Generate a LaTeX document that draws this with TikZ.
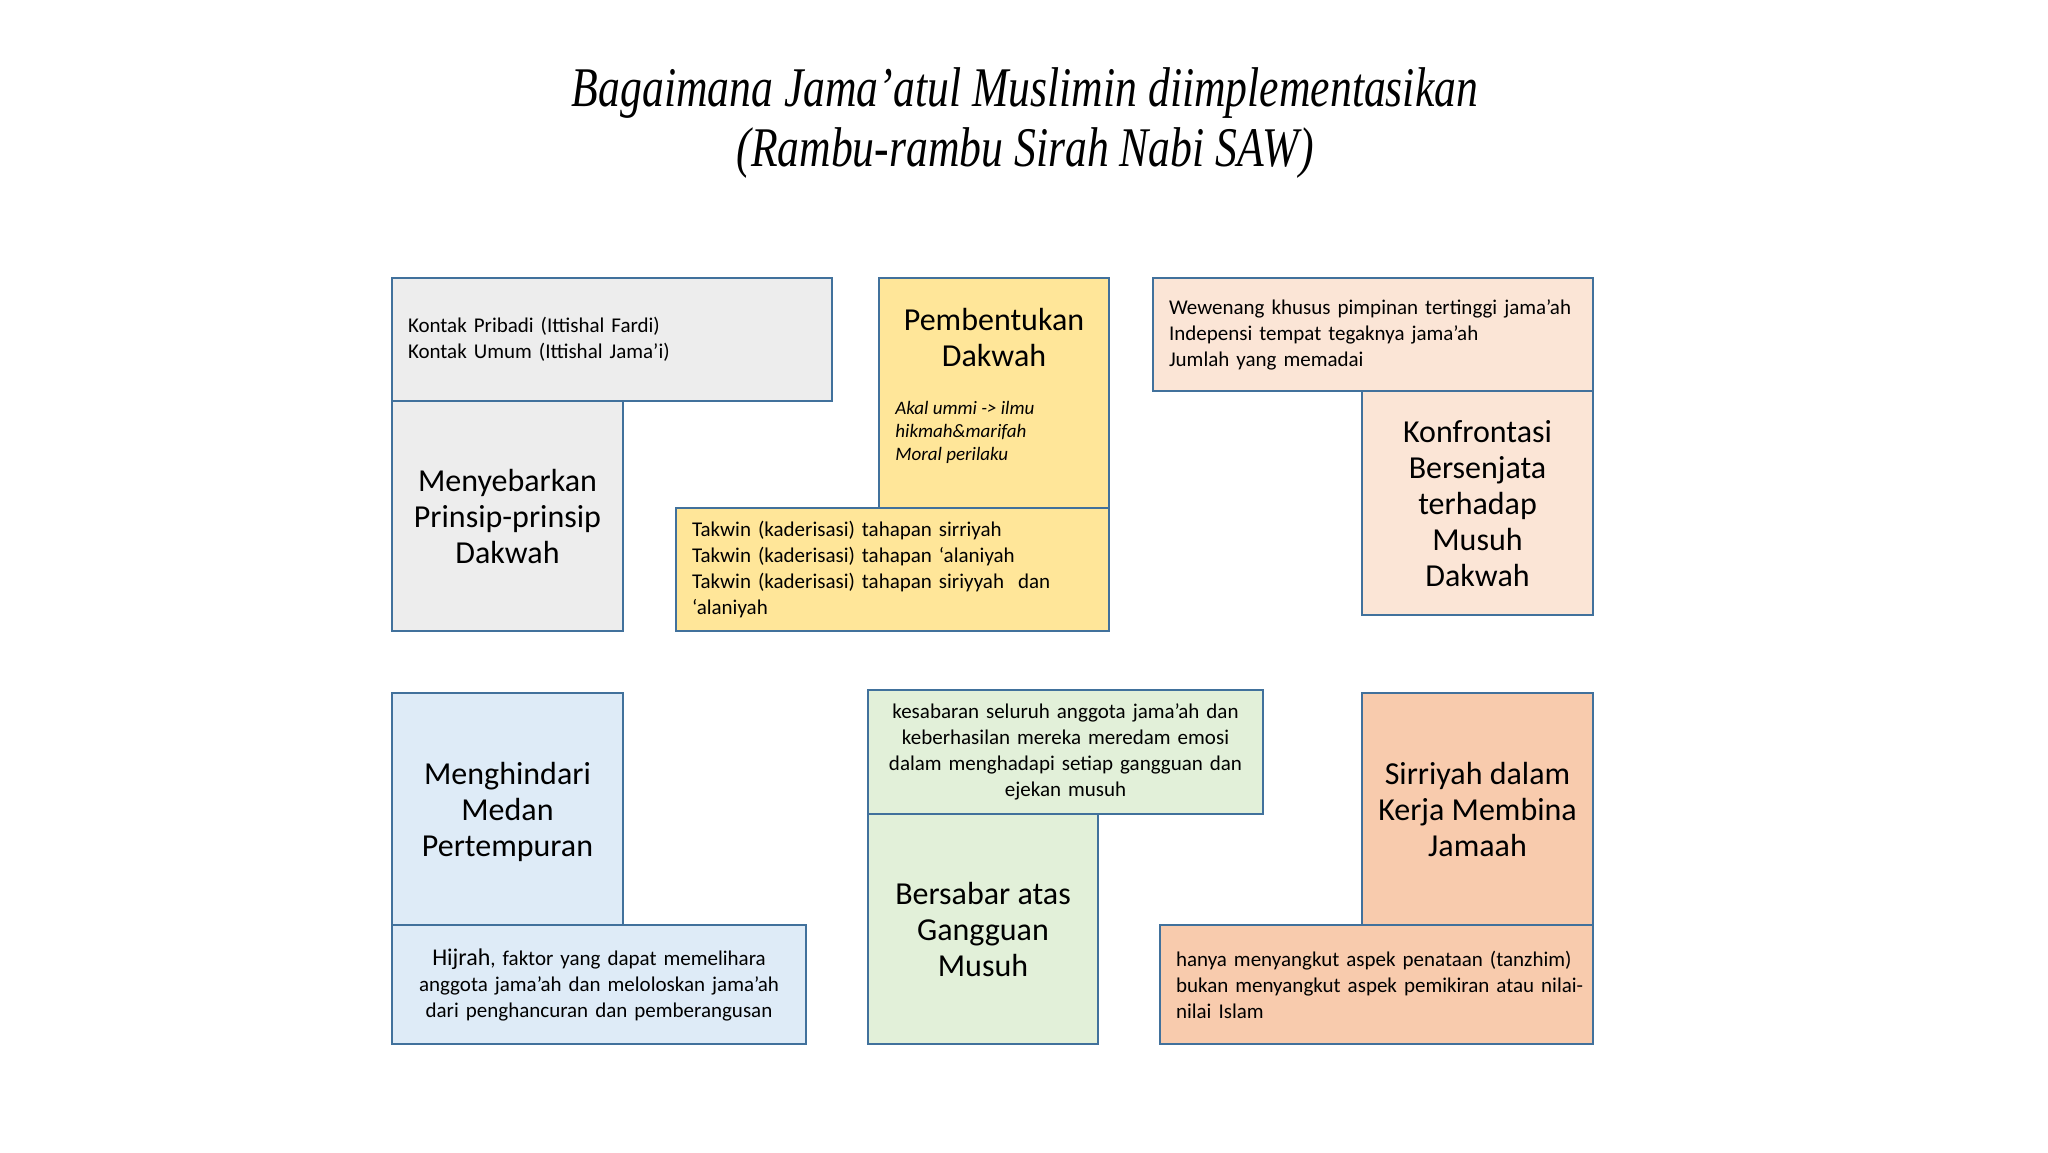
\documentclass[tikz,border=0pt]{standalone}
\usepackage{fontspec}
\usepackage{graphicx}
\usepackage{tikz}
\usetikzlibrary{positioning}
\newfontfamily\calibri{Carlito}
\newfontfamily\judulfont{Liberation Serif}
\definecolor{garis}{RGB}{65,113,156}
\definecolor{abu}{RGB}{237,237,237}
\definecolor{kuning}{RGB}{255,230,153}
\definecolor{krem}{RGB}{251,229,214}
\definecolor{biru}{RGB}{222,235,247}
\definecolor{hijau}{RGB}{226,240,217}
\definecolor{jingga}{RGB}{248,203,173}
\tikzstyle{kotak}=[draw=garis,line width=1pt,rectangle,inner sep=0pt,outer sep=0pt,text=black]
\tikzstyle{besar}=[kotak,font=\calibri\fontsize{16}{18}\selectfont,align=center,text depth=0pt]
\tikzstyle{kecil}=[kotak,font=\calibri\fontsize{10.5}{13}\selectfont,inner xsep=8pt]
\newcommand{\sempit}[1]{\scalebox{0.78}[1]{#1}}

\begin{document}
\begin{tikzpicture}
	[x=0.5pt,y=-0.5pt]
	\path[use as bounding box,fill=white] (0,0) rectangle (2048,1152);

	\node (judul) [font=\judulfont\itshape\fontsize{28}{30}\selectfont,align=center] at (1025,123)
		{\sempit{Bagaimana Jama’atul Muslimin diimplementasikan}\\\sempit{(Rambu-rambu Sirah Nabi SAW)}};

	\node (kontak) [kecil,fill=abu,anchor=north west,text width=204pt,minimum height=61.5pt,align=left] at (392,278)
		{Kontak Pribadi (Ittishal Fardi)\\Kontak Umum (Ittishal Jama’i)};
	\node (sebar) [besar,fill=abu,below right=0pt and 0pt of kontak.south west,minimum width=115.5pt,minimum height=115pt]
		{Menyebarkan\\Prinsip-prinsip\\Dakwah};

	\node (bentuk) [kotak,fill=kuning,anchor=north west,minimum width=115pt,minimum height=115pt] at (879,278) {};
	\node (bentukjudul) [font=\calibri\fontsize{16}{18}\selectfont,align=center,inner sep=0pt,below=15pt of bentuk.north]
		{Pembentukan\\Dakwah};
	\node (bentukisi) [font=\calibri\itshape\fontsize{9.5}{11.5}\selectfont,align=left,inner sep=0pt,below right=61.5pt and 8pt of bentuk.north west]
		{Akal ummi -> ilmu\\hikmah\&marifah\\Moral perilaku};
	\node (takwin) [kecil,fill=kuning,below left=0pt and 0pt of bentuk.south east,text width=200.5pt,minimum height=61.5pt,align=left]
		{Takwin (kaderisasi) tahapan sirriyah\\Takwin (kaderisasi) tahapan ‘alaniyah\\Takwin (kaderisasi) tahapan siriyyah~ dan\\‘alaniyah};

	\node (wewenang) [kecil,fill=krem,anchor=north west,text width=204pt,minimum height=56.5pt,align=left] at (1153,278)
		{\mbox{Wewenang khusus pimpinan tertinggi jama’ah}\\Indepensi tempat tegaknya jama’ah\\Jumlah yang memadai};
	\node (konfrontasi) [besar,fill=krem,below left=0pt and 0pt of wewenang.south east,minimum width=115.5pt,minimum height=112pt]
		{Konfrontasi\\Bersenjata\\terhadap\\Musuh\\Dakwah};

	\node (hindari) [besar,fill=biru,anchor=north west,minimum width=115.5pt,minimum height=116pt] at (392,693)
		{Menghindari\\Medan\\Pertempuran};
	\node (hijrah) [kecil,fill=biru,below right=0pt and 0pt of hindari.south west,text width=191pt,minimum height=59.5pt,align=center]
		{{\fontsize{12}{13}\selectfont Hijrah}, faktor yang dapat memelihara\\anggota jama’ah dan meloloskan jama’ah\\dari penghancuran dan pemberangusan};

	\node (kesabaran) [kecil,fill=hijau,anchor=north west,text width=181.5pt,minimum height=62pt,align=center] at (868,690)
		{kesabaran seluruh anggota jama’ah dan\\keberhasilan mereka meredam emosi\\dalam menghadapi setiap gangguan dan\\ejekan musuh};
	\node (sabar) [besar,fill=hijau,below right=0pt and 0pt of kesabaran.south west,minimum width=115pt,minimum height=115pt]
		{Bersabar atas\\Gangguan\\Musuh};

	\node (sirriyah) [besar,fill=jingga,anchor=north east,minimum width=115.5pt,minimum height=116pt] at (1593,693)
		{Sirriyah dalam\\Kerja Membina\\Jamaah};
	\node (tanzhim) [kecil,fill=jingga,below left=0pt and 0pt of sirriyah.south east,text width=200.5pt,minimum height=59.5pt,align=left]
		{hanya menyangkut aspek penataan (tanzhim)\\\mbox{bukan menyangkut aspek pemikiran atau nilai-}\\nilai Islam};
\end{tikzpicture}
\end{document}
